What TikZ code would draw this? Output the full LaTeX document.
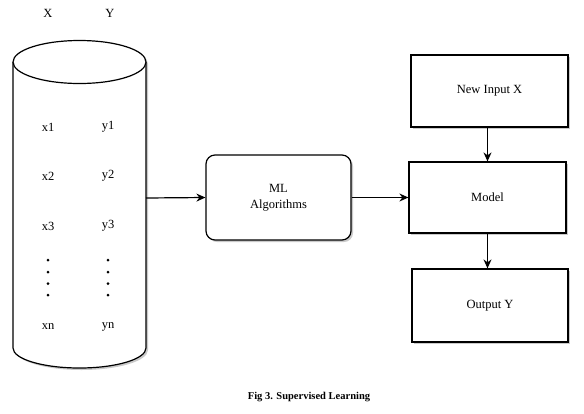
\documentclass[tikz,border=0pt]{standalone}
\usepackage{fontspec}
\setmainfont{Liberation Serif}
\usetikzlibrary{arrows.meta,shadows}
\begin{document}
\begin{tikzpicture}[x=1pt,y=-1pt,
  lbl/.style={font=\fontsize{12.5}{14}\selectfont, inner sep=0pt},
  shd/.style={drop shadow={opacity=0.35,shadow xshift=2pt,shadow yshift=-2pt,fill=black!60}},
  box/.style={draw, line width=1.2pt, fill=white, shd, font=\fontsize{12.5}{14}\selectfont, align=center, inner sep=0pt},
  arr/.style={line width=1.2pt, -{Stealth[length=9pt,width=8pt]}},
  dotm/.style={circle, fill=black, inner sep=0pt, minimum size=3pt}
]
\useasboundingbox (0,0) rectangle (584,413);
% cylinder shadow
\fill[black!60, opacity=0.35] (15,64) -- (15,350) arc[start angle=180,end angle=360,x radius=66.5,y radius=-20] -- (148,64) arc[start angle=0,end angle=180,x radius=66.5,y radius=-21.5] -- cycle;
% cylinder body
\draw[line width=1.2pt, fill=white] (13,62) -- (13,348) arc[start angle=180,end angle=360,x radius=66.5,y radius=-20] -- (146,62);
\draw[line width=1.2pt, fill=white] (79.5,62) ellipse[x radius=66.5, y radius=21.5];
% labels
\node[lbl] (hx) at (48,13) {X};
\node[lbl] (hy) at (110,13) {Y};
\node[lbl] (x1) at (48,127) {x1};
\node[lbl] (y1) at (108,127) {y1};
\node[lbl] (x2) at (48,176) {x2};
\node[lbl] (y2) at (108,176) {y2};
\node[lbl] (x3) at (48,226) {x3};
\node[lbl] (y3) at (108,226) {y3};
\foreach \i/\yy in {1/260,2/272,3/283.5,4/295}{
  \node[dotm] (dx\i) at (48,\yy) {};
  \node[dotm] (dy\i) at (108,\yy) {};
}
\node[lbl] (xn) at (48,327) {xn};
\node[lbl] (yn) at (108,327) {yn};
\coordinate (dbr) at (146,198);
% boxes
\node[box, rounded corners=9pt, minimum width=145pt, minimum height=85pt] (ml) at (278.5,197.5) {ML\\[2pt]Algorithms};
\node[box, minimum width=157pt, minimum height=72pt] (inp) at (489.5,91) {New Input X};
\node[box, minimum width=157pt, minimum height=71pt] (model) at (487.5,197.5) {Model};
\node[box, minimum width=156pt, minimum height=73pt] (out) at (490,305.5) {Output Y};
% connectors
\draw[arr] (dbr) -- (ml.west);
\draw[arr] (ml.east) -- (model.west);
\draw[arr] (inp.south -| model) -- (model.north);
\draw[arr] (model.south) -- (out.north -| model);
% caption
\node[font=\fontsize{10.5}{12}\selectfont\bfseries, inner sep=0pt] (cap) at (309,397) {Fig 3. Supervised Learning};
\end{tikzpicture}
\end{document}
